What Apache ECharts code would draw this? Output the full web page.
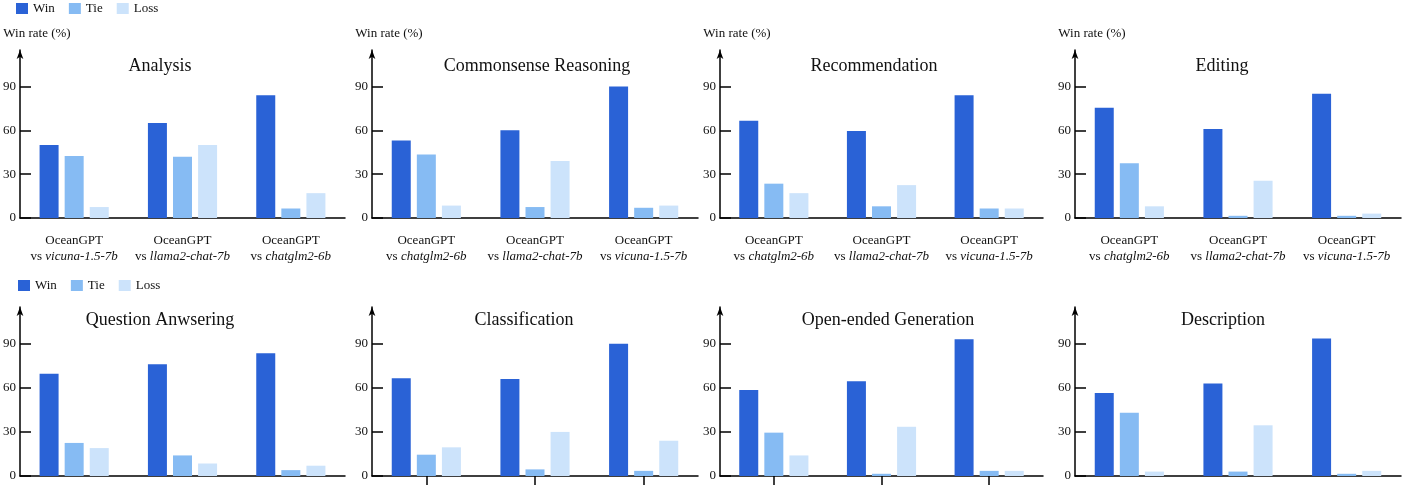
<!DOCTYPE html>
<html>
<head>
<meta charset="utf-8">
<script src="https://cdn.jsdelivr.net/npm/echarts@6/dist/echarts.min.js"></script>
<style>
  html, body { margin: 0; padding: 0; background: #fff; }
  #main { width: 1405px; height: 488px; }
</style>
</head>
<body>
<div id="main"></div>
<script>
// 数据
var tasks = ["Analysis", "Commonsense Reasoning", "Recommendation", "Editing",
  "Question Anwsering", "Classification", "Open-ended Generation", "Description"];
var seriesNames = ["Win", "Tie", "Loss"];
var modelsA = ["vicuna-1.5-7b", "llama2-chat-7b", "chatglm2-6b"];
var modelsB = ["chatglm2-6b", "llama2-chat-7b", "vicuna-1.5-7b"];
var yTicks = [0, 30, 60, 90];

var win = [
  [50, 65, 84],
  [53, 60, 90],
  [66.5, 59.5, 84],
  [75.5, 61, 85],
  [69.5, 76, 83.5],
  [66.5, 66, 90],
  [58.5, 64.5, 93],
  [56.5, 63, 93.5]
];
var tie = [
  [42.5, 42, 6.5],
  [43.5, 7.5, 7],
  [23.5, 8, 6.5],
  [37.5, 1.5, 1.5],
  [22.5, 14, 4],
  [14.5, 4.5, 3.5],
  [29.5, 1.5, 3.5],
  [43, 3, 1.5]
];
var loss = [
  [7.5, 50, 17],
  [8.5, 39, 8.5],
  [17, 22.5, 6.5],
  [8, 25.5, 3],
  [19, 8.5, 7],
  [19.5, 30, 24],
  [14, 33.5, 3.5],
  [3, 34.5, 3.5]
];

var colors = ["#2a62d6", "#86bbf3", "#cce3fb"];
var font = "Liberation Serif";

// 布局
var gridLeft = [17, 372, 720, 1075];
var gridWidth = [328, 326, 323, 326];
var titleX = [160, 537, 874, 1222, 160, 524, 888, 1223];

var grids = [], xAxes = [], yAxes = [], series = [], graphics = [];

for (var i = 0; i < 8; i++) {
  var col = i % 4;
  var topRow = i < 4;
  grids.push({
    left: gridLeft[col],
    width: gridWidth[col],
    top: topRow ? 50 : 307,
    height: topRow ? 168 : 169
  });
  xAxes.push({
    type: "category",
    gridIndex: i,
    data: i === 0 ? modelsA : modelsB,
    axisLine: { lineStyle: { color: "#000", width: 1.5 } },
    axisTick: {
      show: i === 5 || i === 6,
      interval: 0,
      alignWithLabel: true,
      length: 9,
      lineStyle: { color: "#000", width: 1.5 }
    },
    axisLabel: {
      show: topRow,
      interval: 0,
      margin: 15,
      formatter: function (v) {
        return "{a|OceanGPT}\n{b|vs }{i|" + v + "}";
      },
      rich: {
        a: { fontFamily: font, fontSize: 13, color: "#111", lineHeight: 16 },
        b: { fontFamily: font, fontSize: 13, color: "#111", lineHeight: 16 },
        i: { fontFamily: font, fontSize: 13, color: "#111", lineHeight: 16, fontStyle: "italic" }
      }
    }
  });
  yAxes.push({
    type: "value",
    gridIndex: i,
    min: 0,
    max: 115,
    name: topRow ? "Win rate (%)" : "",
    nameLocation: "end",
    nameGap: 10,
    nameTextStyle: {
      fontFamily: font, fontSize: 13, color: "#111",
      align: "center", padding: [0, 0, 0, 34]
    },
    splitLine: { show: false },
    axisLine: {
      show: true,
      symbol: ["none", "arrow"],
      symbolSize: [5, 9],
      lineStyle: { color: "#000", width: 1.5 }
    },
    axisTick: {
      show: true,
      inside: true,
      length: 11,
      customValues: yTicks,
      lineStyle: { color: "#000", width: 1.5 }
    },
    axisLabel: {
      margin: 4,
      customValues: yTicks,
      fontFamily: font,
      fontSize: 13,
      color: "#111"
    }
  });
  var vals = [win[i], tie[i], loss[i]];
  for (var s = 0; s < 3; s++) {
    series.push({
      name: seriesNames[s],
      type: "bar",
      xAxisIndex: i,
      yAxisIndex: i,
      barWidth: 19,
      barGap: "32%",
      itemStyle: { color: colors[s] },
      data: vals[s]
    });
  }
  graphics.push({
    type: "text",
    x: titleX[i],
    y: topRow ? 66 : 320,
    style: {
      text: tasks[i],
      font: "18px '" + font + "'",
      fill: "#111",
      align: "center",
      verticalAlign: "middle"
    }
  });
}

var legendBase = {
  data: seriesNames,
  icon: "rect",
  padding: 0,
  itemWidth: 12,
  itemHeight: 11,
  itemGap: 14,
  textStyle: { fontFamily: font, fontSize: 13, color: "#111" }
};

var myChart = echarts.init(document.getElementById("main"));

var option = {
  animation: false,
  color: colors,
  legend: [
    Object.assign({ left: 16, top: 2 }, legendBase),
    Object.assign({ left: 18, top: 279 }, legendBase)
  ],
  grid: grids,
  xAxis: xAxes,
  yAxis: yAxes,
  graphic: graphics,
  series: series
};

myChart.setOption(option);
</script>
</body>
</html>
